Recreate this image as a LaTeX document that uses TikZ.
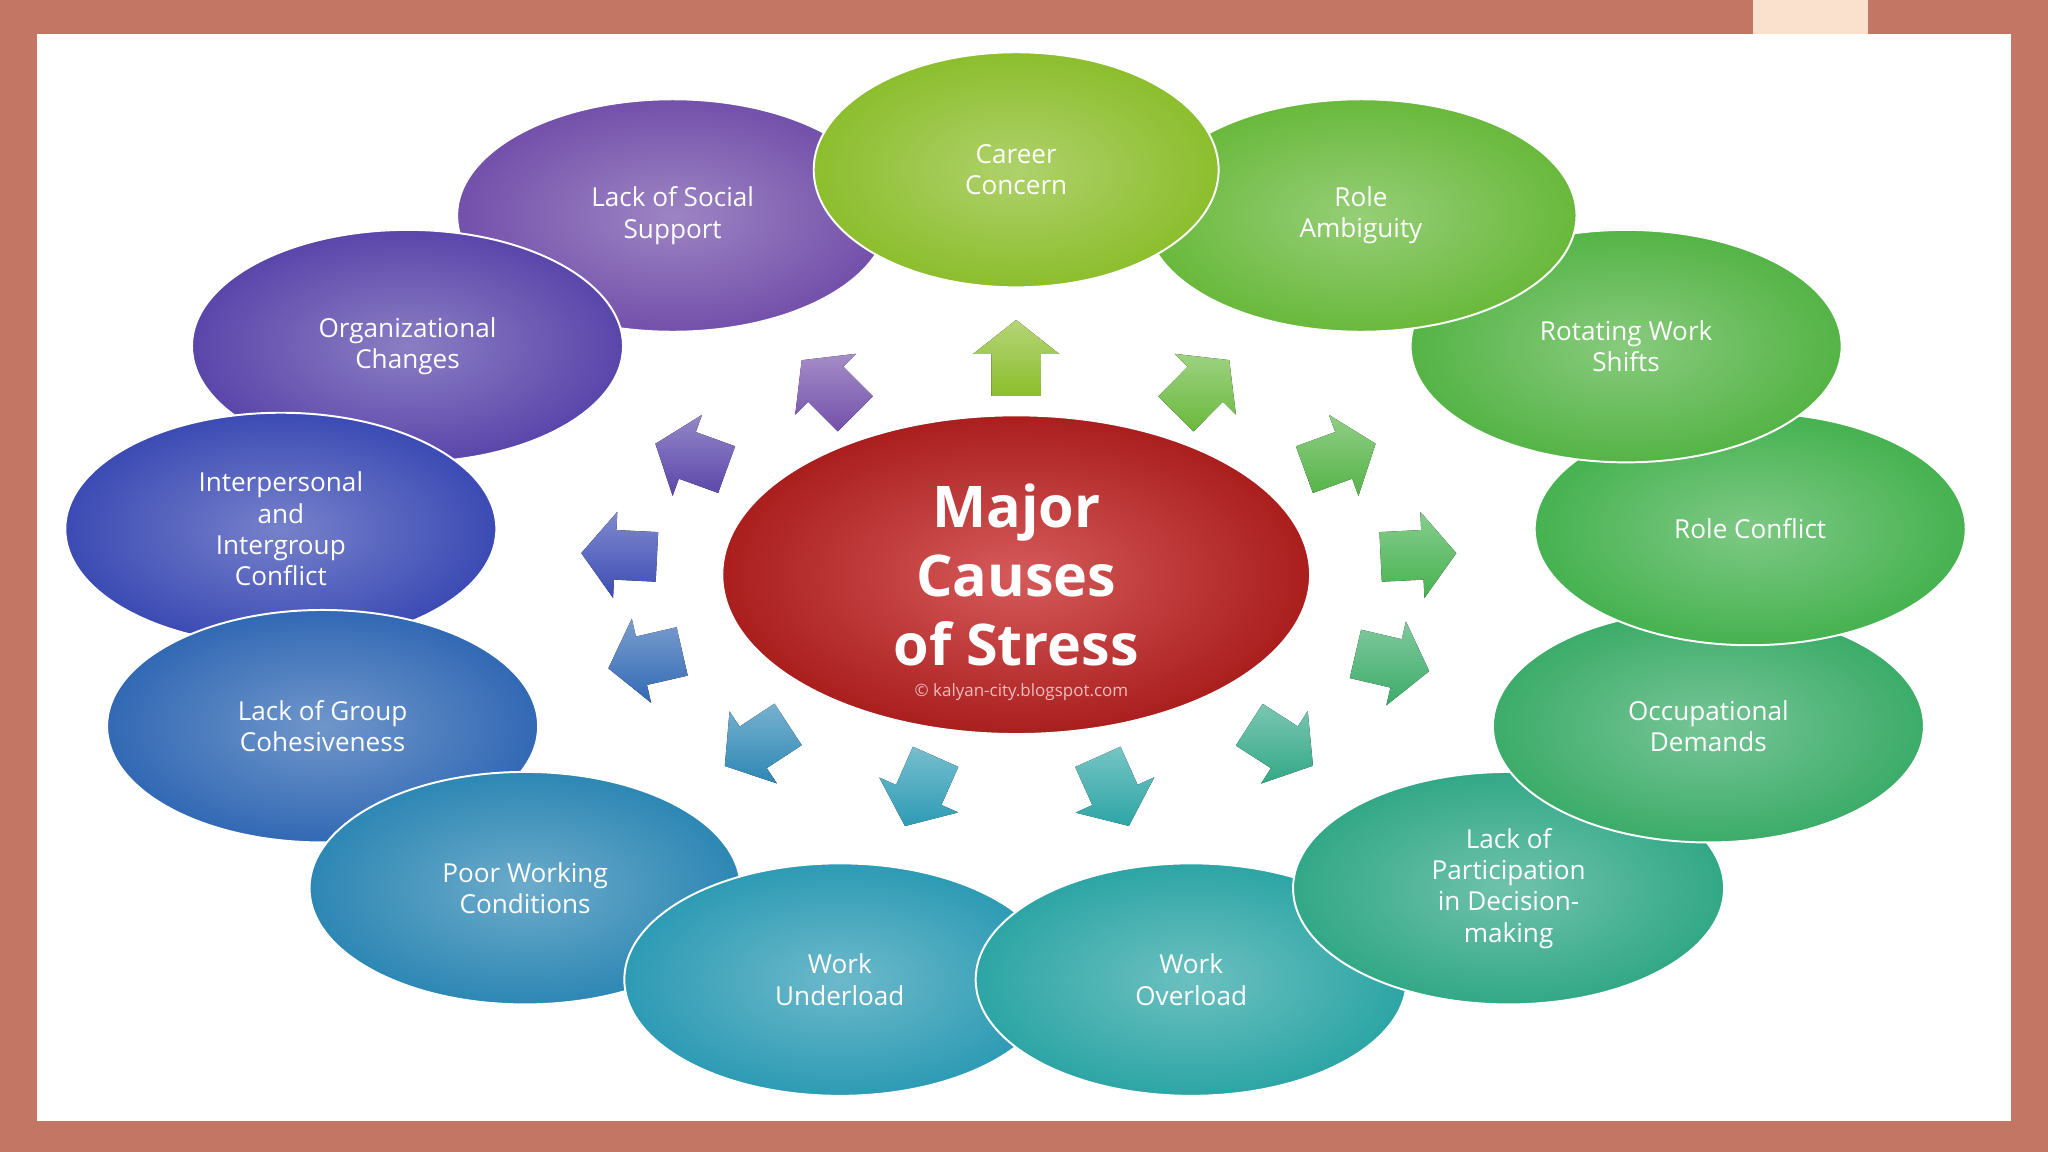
\documentclass[tikz,border=0pt]{standalone}
\usepackage{fontspec}
\setmainfont{Open Sans}
\usetikzlibrary{shapes.geometric}
\tikzset{
 cause/.style={ellipse,minimum width=330pt,minimum height=178pt,inner sep=0pt,
   draw=white,line width=1.5pt,text=white,align=center,font=\fontsize{20}{24}\selectfont,
   inner color=#1!70!white,outer color=#1},
 arr/.style={draw=none,top color=#1!65!white,bottom color=#1}
}
\definecolor{frame}{RGB}{196,118,100}
\definecolor{tab}{RGB}{250,225,205}
\definecolor{c1}{RGB}{140,190,45}
\definecolor{c2}{RGB}{105,185,60}
\definecolor{c3}{RGB}{85,180,70}
\definecolor{c4}{RGB}{70,178,80}
\definecolor{c5}{RGB}{60,172,105}
\definecolor{c6}{RGB}{50,168,135}
\definecolor{c7}{RGB}{45,165,165}
\definecolor{c8}{RGB}{45,155,180}
\definecolor{c9}{RGB}{45,135,180}
\definecolor{c10}{RGB}{50,105,180}
\definecolor{c11}{RGB}{60,75,180}
\definecolor{c12}{RGB}{90,70,170}
\definecolor{c13}{RGB}{115,80,170}
\definecolor{red1}{RGB}{200,35,35}
\begin{document}
\begin{tikzpicture}[x=1pt,y=-1pt]
\fill[frame] (0,0) rectangle (1568,882);
\fill[white] (28,26) rectangle (1540,858);
\fill[tab] (1342,0) rectangle (1430,26);
% arrows
\foreach \x/\y/\c in {778/275/c1,920/297/c2,1025/350/c3,1085/425/c4,1065/507/c5,980/570/c6,852/605/c7,705/605/c8,580/570/c9,495/505/c10,475/425/c11,530/350/c12,635/297/c13}{
  \pgfmathsetmacro{\ang}{-atan2(\y-440,\x-778)}
  \fill[arr=\c,shift={(\x,\y)},rotate=\ang] (-28,-19) -- (4,-19) -- (4,-33) -- (30,0) -- (4,33) -- (4,19) -- (-28,19) -- cycle;
}
\node[cause=c13] (s13) at (515,165) {Lack of Social\\Support};
\node[cause=c12] (s12) at (312,265) {Organizational\\Changes};
\node[cause=c11] (s11) at (215,405) {Interpersonal\\and\\Intergroup\\Conflict};
\node[cause=c10] (s10) at (247,556) {Lack of Group\\Cohesiveness};
\node[cause=c9] (s9) at (402,680) {Poor Working\\Conditions};
\node[cause=c8] (s8) at (643,750) {Work\\Underload};
\node[cause=c7] (s7) at (912,750) {Work\\Overload};
\node[cause=c6] (s6) at (1155,680) {Lack of\\Participation\\in Decision-\\making};
\node[cause=c5] (s5) at (1308,556) {Occupational\\Demands};
\node[cause=c4] (s4) at (1340,405) {Role Conflict};
\node[cause=c3] (s3) at (1245,265) {Rotating Work\\Shifts};
\node[cause=c2] (s2) at (1042,165) {Role\\Ambiguity};
\node[cause=c1,minimum width=310pt,minimum height=180pt] (s1) at (778,130) {Career\\Concern};
\node[ellipse,minimum width=450pt,minimum height=244pt,inner color=red1!75!white,outer color=red1!85!black,
  draw=white,line width=1.5pt,text=white,align=center,font=\fontsize{44}{53}\selectfont\bfseries] (c) at (778,440) {Major\\Causes\\of Stress};
\node[text=white!70!red1,font=\fontsize{13}{15}\selectfont] (wm) at (782,530) {© kalyan-city.blogspot.com};
\end{tikzpicture}
\end{document}
